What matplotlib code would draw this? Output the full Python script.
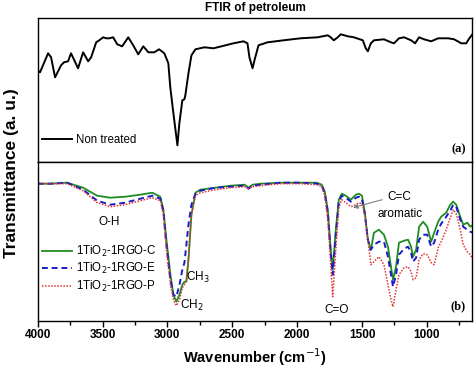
import matplotlib
matplotlib.use("Agg")
import matplotlib.pyplot as plt
from matplotlib.ticker import MultipleLocator

plt.rcParams['font.family'] = ['Liberation Sans', 'DejaVu Sans']

# ---- Panel (a): non treated petroleum ----
wn_a = [4000, 3982, 3920, 3897, 3866, 3820, 3797, 3766, 3743, 3689, 3650, 3611, 3588,
        3549, 3526, 3495, 3472, 3449, 3418, 3387, 3349, 3302, 3264, 3225, 3186, 3147,
        3101, 3064, 3024, 2993, 2978, 2954, 2923, 2908, 2885, 2869, 2862, 2838, 2815,
        2784, 2715, 2645, 2491, 2414, 2383, 2368, 2344, 2329, 2298, 2228, 2105, 1973,
        1842, 1764, 1741, 1718, 1687, 1664, 1610, 1563, 1494, 1471, 1455, 1432, 1408,
        1331, 1277, 1254, 1215, 1176, 1122, 1091, 1060, 1022, 967, 913, 836, 790, 735,
        697, 673, 643]
t_nontreated = [92, 90, 109, 105, 85, 97, 100, 101, 109, 94, 110, 101, 105,
                120, 122, 125, 124, 124, 125, 118, 116, 125, 117, 108, 116, 110,
                110, 113, 109, 99, 75, 49, 17, 39, 62, 63, 67, 89, 107,
                113, 115, 114, 119, 121, 119, 105, 94, 102, 117, 120, 122, 124,
                125, 127, 125, 122, 125, 128, 126, 125, 122, 114, 111, 119, 122,
                123, 120, 119, 124, 125, 122, 119, 125, 123, 121, 124, 124, 123, 119,
                119, 124, 129]

# ---- Panel (b): treated samples ----
wn_b = [4000, 3905, 3774, 3650, 3542, 3441, 3325, 3209, 3117, 3055, 3031, 3008, 2977,
        2954, 2931, 2907, 2885, 2869, 2854, 2838, 2815, 2784, 2746, 2630, 2514, 2405,
        2375, 2344, 2282, 2127, 1973, 1849, 1810, 1787, 1764, 1741, 1726, 1702, 1679,
        1656, 1625, 1586, 1547, 1524, 1501, 1478, 1455, 1432, 1408, 1370, 1331, 1300,
        1277, 1261, 1238, 1215, 1176, 1145, 1122, 1107, 1083, 1060, 1029, 998, 967,
        944, 913, 890, 851, 820, 797, 774, 743, 720, 689, 666, 643]
t_C = [137, 137, 138, 133, 125, 123, 124, 126, 128, 124, 111, 81, 46,
       26, 19, 26, 36, 39, 39, 61, 106, 128, 131, 133, 135, 136,
       133, 136, 137, 138, 138, 138, 136, 129, 111, 71, 51, 91, 121,
       127, 125, 121, 126, 127, 125, 108, 81, 71, 88, 91, 86, 74,
       54, 41, 54, 78, 80, 81, 74, 64, 71, 94, 99, 94, 79,
       88, 99, 104, 108, 116, 119, 116, 104, 96, 98, 94, 96]
t_E = [137, 137, 138, 131, 120, 116, 118, 122, 125, 122, 109, 76, 41,
       26, 24, 36, 51, 58, 76, 96, 116, 127, 130, 133, 134, 135,
       132, 135, 136, 138, 138, 137, 135, 127, 108, 66, 46, 86, 119,
       125, 123, 119, 123, 124, 122, 106, 81, 71, 76, 79, 79, 64,
       46, 34, 46, 66, 72, 74, 68, 59, 63, 81, 86, 86, 74,
       78, 91, 97, 104, 110, 116, 114, 101, 94, 91, 89, 88]
t_P = [137, 137, 137, 130, 118, 114, 116, 120, 123, 120, 106, 71, 36,
       21, 15, 21, 33, 36, 41, 61, 106, 125, 128, 131, 133, 134,
       132, 134, 135, 137, 137, 136, 134, 125, 101, 56, 24, 71, 113,
       121, 118, 114, 116, 118, 117, 106, 81, 56, 59, 64, 56, 36,
       21, 14, 31, 46, 53, 54, 49, 41, 43, 61, 67, 66, 58,
       56, 73, 79, 91, 103, 111, 107, 91, 76, 69, 66, 61]

labels_b = ['1TiO$_2$-1RGO-C', '1TiO$_2$-1RGO-E', '1TiO$_2$-1RGO-P']

W, H = 474, 367
fig = plt.figure(figsize=(W / 100, H / 100), dpi=100)
L, R = 37.7 / W, 472.3 / W
ax_a = fig.add_axes([L, 1 - 162.3 / H, R - L, (162.3 - 18.3) / H])
ax_b = fig.add_axes([L, 1 - 320.7 / H, R - L, (320.7 - 162.3) / H], sharex=ax_a)

ax_a.plot(wn_a, t_nontreated, color='black', lw=1.4, label='Non treated')
ax_a.set_ylim(0, 144)
ax_a.legend(loc='lower left', frameon=False, fontsize=8.3, handlelength=2.6,
            handletextpad=0.3, borderaxespad=0.2, borderpad=0.2,
            bbox_to_anchor=(0.0, 0.08))

ax_b.plot(wn_b, t_C, color='#1f8c1f', lw=1.3, ls='-', label=labels_b[0])
ax_b.plot(wn_b, t_E, color='#1a1acc', lw=1.4, ls=(0, (3, 2)), label=labels_b[1])
ax_b.plot(wn_b, t_P, color='#e03535', lw=1.1, ls=(0, (1, 1)), label=labels_b[2])
ax_b.set_ylim(0, 158.4)
ax_b.legend(loc='lower left', frameon=False, fontsize=8.3, handlelength=2.6,
            handletextpad=0.3, borderaxespad=0.2, borderpad=0.2, labelspacing=0.22,
            bbox_to_anchor=(0.0, 0.14))

ax_b.set_xlim(4000, 650)
ax_b.xaxis.set_major_locator(MultipleLocator(500))
ax_b.xaxis.set_minor_locator(MultipleLocator(250))

for ax in (ax_a, ax_b):
    ax.set_yticks([])
    for s in ax.spines.values():
        s.set_linewidth(1.0)
ax_a.tick_params(axis='x', which='both', bottom=False, labelbottom=False)
ax_b.tick_params(axis='x', which='major', direction='out', length=4, width=1,
                 labelsize=8.5, pad=2)
ax_b.tick_params(axis='x', which='minor', direction='out', length=3, width=1)
for lab in ax_b.get_xticklabels():
    lab.set_fontweight('bold')

ax_b.set_xlabel('Wavenumber (cm$^{-1}$)', fontsize=10.5, fontweight='bold', labelpad=4)
fig.text(0.024, 1 - 173 / H, 'Transmittance (a. u.)', rotation=90, fontsize=12.5,
         fontweight='bold', ha='center', va='center')
fig.text(255 / W, 1 - 8 / H, 'FTIR of petroleum', fontsize=8.5, fontweight='bold',
         ha='center', va='center')

serif = ['Liberation Serif', 'DejaVu Serif']
ax_a.text(0.985, 0.05, '(a)', transform=ax_a.transAxes, ha='right', va='bottom',
          fontsize=9, fontweight='bold', family=serif)
ax_b.text(0.985, 0.05, '(b)', transform=ax_b.transAxes, ha='right', va='bottom',
          fontsize=9, fontweight='bold', family=serif)

fs = 8.5
ax_b.text(3450, 321 - 222, 'O-H', ha='center', va='center', fontsize=fs)
ax_b.text(2860, 321 - 278, 'CH$_3$', ha='left', va='center', fontsize=fs)
ax_b.text(2900, 321 - 306, 'CH$_2$', ha='left', va='center', fontsize=fs)
ax_b.text(1700, 321 - 310, 'C=O', ha='center', va='center', fontsize=fs)
ax_b.text(1210, 321 - 197, 'C=C', ha='center', va='center', fontsize=fs)
ax_b.text(1210, 321 - 214, 'aromatic', ha='center', va='center', fontsize=fs)
ax_b.annotate('', xy=(1570, 321 - 208), xytext=(1345, 321 - 200),
              arrowprops=dict(arrowstyle='-|>', color='gray', lw=0.8,
                              mutation_scale=7, shrinkA=0, shrinkB=0))

fig.savefig('out.png', dpi=100)
